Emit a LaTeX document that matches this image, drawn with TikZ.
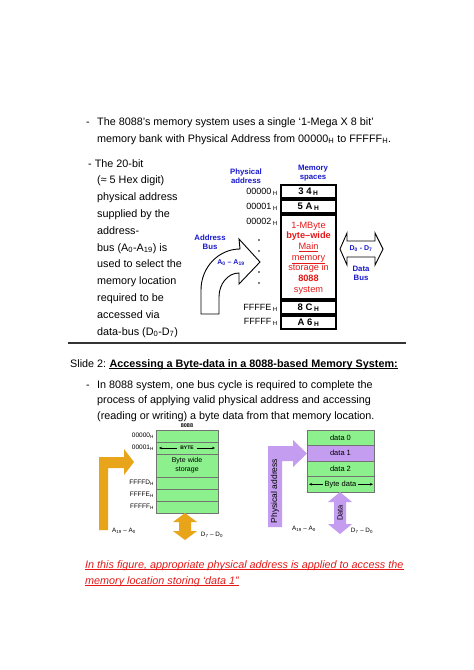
\documentclass[tikz,border=0pt]{standalone}
\usepackage{fontspec}
\setmainfont{Liberation Sans}
\usetikzlibrary{arrows.meta}
\definecolor{bblue}{RGB}{25,25,205}
\definecolor{rred}{RGB}{230,25,25}
\definecolor{orng}{RGB}{232,165,25}
\definecolor{lgrn}{RGB}{140,240,140}
\definecolor{lpur}{RGB}{196,156,240}
\newcommand\fbody{\fontsize{10.8}{13}\selectfont}
\newcommand\fsz[1]{\fontsize{#1}{#1}\selectfont}
\begin{document}
\begin{tikzpicture}[x=1pt,y=-1pt,
  txt/.style={anchor=base west,inner sep=0,font=\fbody},
  blab/.style={inner sep=0,align=center,text=bblue,font=\bfseries\fontsize{7.8}{9}\selectfont},
  alab/.style={inner sep=0,anchor=east,font=\fsz{9}},
  memrow/.style={draw,line width=1.1pt,minimum width=55pt,minimum height=13pt,inner sep=0,font=\bfseries\fsz{9.5}},
  grnrow/.style={draw=black!55,line width=0.5pt,fill=lgrn,minimum width=62pt,inner sep=0,font=\fsz{7}},
  prow/.style={draw=black!55,line width=0.5pt,fill=lgrn,minimum width=67pt,minimum height=15.5pt,inner sep=0,font=\fsz{7.5}},
  slab/.style={inner sep=0,font=\fsz{6.3}},
  glab/.style={inner sep=0,anchor=east,font=\fsz{6.5}},
  arr/.style={-{Stealth[length=3pt,width=2.5pt]},line width=0.6pt},
  uln/.style={line width=0.7pt}
]
\fill[white] (0,0) rectangle (474,670);
\useasboundingbox (0,0) rectangle (474,670);

% top paragraph
\node[txt] (d1) at (86,125) {-};
\node[txt] (t1a) at (97,125) {The 8088’s memory system uses a single ‘1-Mega X 8 bit’};
\node[txt] (t1b) at (97,142) {memory bank with Physical Address from 00000\textsubscript{H} to FFFFF\textsubscript{H}.};

% left paragraph
\node[txt] (b0) at (88,167) {- The 20-bit};
\foreach \t [count=\i] in {{(≈ 5 Hex digit)},{physical address},{supplied by the},{address-},
  {bus (A\textsubscript{0}-A\textsubscript{19}) is},{used to select the},{memory location},
  {required to be},{accessed via},{data-bus (D\textsubscript{0}-D\textsubscript{7})}}
  \node[txt] (b\i) at (97,167+16.8*\i) {\t};

% memory diagram 1
\node[blab] (pa) at (246,176) {Physical\\address};
\node[blab] (ms) at (313,173) {Memory\\spaces};
\node[memrow] (m1) at (308.5,191.5) {3 4\,\textsubscript{H}};
\node[memrow] (m2) at (308.5,206.5) {5 A\,\textsubscript{H}};
\node[memrow,minimum height=84pt] (mbig) at (308.5,257) {};
\node[memrow] (m4) at (308.5,307.5) {8 C\,\textsubscript{H}};
\node[memrow] (m5) at (308.5,322.5) {A 6\,\textsubscript{H}};
\node[inner sep=0,align=center,text=rred,font=\fontsize{9.2}{10.7}\selectfont] (mtxt) at (308.5,258)
  {1-MByte\\\textbf{byte--wide}\\\underline{Main}\\\underline{memory}\\storage in\\\textbf{8088}\\system};
\node[alab] (a0) at (278,192) {00000\,\textsubscript{H}};
\node[alab] (a1) at (278,207) {00001\,\textsubscript{H}};
\node[alab] (a2) at (278,222) {00002\,\textsubscript{H}};
\node[alab] (a4) at (278,308) {FFFFE\,\textsubscript{H}};
\node[alab] (a5) at (278,322) {FFFFF\,\textsubscript{H}};
\foreach \yy in {240,251,262,272,283} \fill (259,\yy) circle (0.8);

% address bus arrow
\draw[fill=white,line width=0.9pt] (201,314) -- (201,290)
  arc[start angle=180,end angle=270,x radius=39,y radius=41]
  -- (239,239) -- (260,262) -- (239,284) -- (239,273)
  arc[start angle=270,end angle=180,x radius=20,y radius=24]
  -- (219,314) -- cycle;
\node[blab] (ab) at (210,242) {Address\\Bus};
\node[blab,font=\bfseries\fsz{7}] (aa) at (231,263) {A\textsubscript{0} – A\textsubscript{19}};

% data bus arrow
\draw[fill=white,line width=0.9pt] (340,249) -- (347,233) -- (347,241) -- (375,241) -- (375,233)
  -- (383,249) -- (375,265) -- (375,257) -- (347,257) -- (347,265) -- cycle;
\node[blab,font=\bfseries\fsz{7}] (dd) at (361,249) {D\textsubscript{0} - D\textsubscript{7}};
\node[blab] (db) at (361,273) {Data\\Bus};

% rule
\draw[line width=1.4pt,black!80] (68,343) -- (406,343);

% slide 2
\node[txt] (s2a) at (70,367) {Slide 2:};
\node[txt,font=\fbody\bfseries] (s2b) at ([xshift=3pt]s2a.base east) {Accessing a Byte-data in a 8088-based Memory System:};
\draw[uln] ([yshift=-1.8pt]s2b.base west) -- ([yshift=-1.8pt]s2b.base east);
\node[txt] (d2) at (86,388) {-};
\node[txt] (p1) at (97,388) {In 8088 system, one bus cycle is required to complete the};
\node[txt] (p2) at (97,403.7) {process of applying valid physical address and accessing};
\node[txt] (p3) at (97,419.3) {(reading or writing) a byte data from that memory location.};

% lower left diagram
\node[inner sep=0,font=\bfseries\fsz{5.5}] (c88) at (187,425.5) {8088};
\node[grnrow,minimum height=12pt] (g1) at (187,436) {};
\node[grnrow,minimum height=12pt] (g2) at (187,448) {};
\node[grnrow,minimum height=23pt] (g3) at (187,465.5) {};
\node[grnrow,minimum height=12pt] (g4) at (187,483) {};
\node[grnrow,minimum height=12pt] (g5) at (187,495) {};
\node[grnrow,minimum height=12pt] (g6) at (187,507) {};
\node[inner sep=0,align=center,font=\fontsize{7}{9}\selectfont] (bws) at (187,465.5) {Byte wide\\storage};
\node[inner sep=0,font=\bfseries\fsz{5}] (byte) at (187,448) {BYTE};
\draw[arr] ([xshift=-3pt]byte.west) -- (159,448);
\draw[arr] ([xshift=3pt]byte.east) -- (215,448);
\node[glab] (l1) at (154,436) {00000\textsubscript{H}};
\node[glab] (l2) at (154,448) {00001\textsubscript{H}};
\node[glab] (l4) at (154,483) {FFFFD\textsubscript{H}};
\node[glab] (l5) at (154,495) {FFFFE\textsubscript{H}};
\node[glab] (l6) at (154,507) {FFFFF\textsubscript{H}};
\fill[orng] (99,530) -- (99,457) -- (124,457) -- (124,449) -- (134,462) -- (124,475)
  -- (124,468) -- (108,468) -- (108,530) -- cycle;
\node[slab] (oa) at (124,531) {A\textsubscript{19} – A\textsubscript{0}};
\fill[orng] (185,513) -- (197,522) -- (191,522) -- (191,531) -- (197,531) -- (185,540)
  -- (173,531) -- (179,531) -- (179,522) -- (173,522) -- cycle;
\node[slab] (od) at (212,535) {D\textsubscript{7} – D\textsubscript{0}};

% lower right diagram
\node[prow] (q0) at (340.5,437.75) {data 0};
\node[prow,fill=lpur] (q1) at (340.5,453.25) {data 1};
\node[prow] (q2) at (340.5,468.75) {data 2};
\node[prow] (q3) at (340.5,484.25) {};
\node[inner sep=0,font=\fsz{7.5}] (bd) at (340.5,484.25) {Byte data};
\draw[arr] ([xshift=-1.5pt]bd.west) -- (309,484.25);
\draw[arr] ([xshift=1.5pt]bd.east) -- (373,484.25);
\fill[lpur] (268,527) -- (268,446) -- (293,446) -- (293,440) -- (307,453.5) -- (293,467)
  -- (293,461) -- (282,461) -- (282,527) -- cycle;
\node[inner sep=0,rotate=90,font=\fsz{8.5}] (phy) at (275,491) {Physical address};
\node[slab] (pa2) at (304,529) {A\textsubscript{19} – A\textsubscript{0}};
\fill[lpur] (340,492) -- (352,502) -- (346,502) -- (346,524) -- (352,524) -- (340,534)
  -- (328,524) -- (334,524) -- (334,502) -- (328,502) -- cycle;
\node[inner sep=0,rotate=90,font=\fsz{7.5}] (pdat) at (340,513) {Data};
\node[slab] (pd2) at (362,531) {D\textsubscript{7} – D\textsubscript{0}};

% bottom red text
\node[txt,text=rred,font=\fbody\itshape] (r1) at (85,568) {In this figure, appropriate physical address is applied to access the};
\draw[uln,rred] ([yshift=-1.8pt]r1.base west) -- ([yshift=-1.8pt]r1.base east);
\node[txt,text=rred,font=\fbody\itshape] (r2) at (85,584) {memory location storing ‘data 1”};
\draw[uln,rred] ([yshift=-1.8pt]r2.base west) -- ([yshift=-1.8pt]r2.base east);
\end{tikzpicture}
\end{document}
